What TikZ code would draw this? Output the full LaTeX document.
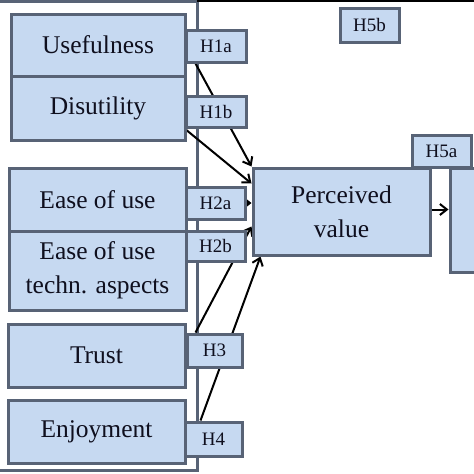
\documentclass[tikz,border=0pt]{standalone}
\usepackage{fontspec}
\setmainfont{Liberation Serif}
\usetikzlibrary{arrows.meta,calc,backgrounds}
\definecolor{boxfill}{RGB}{198,217,241}
\definecolor{boxline}{RGB}{88,99,118}
\definecolor{txt}{RGB}{15,15,30}
\begin{document}
\begin{tikzpicture}[x=1pt,y=-1pt,
  box/.style={draw=boxline,fill=boxfill,line width=3pt,inner sep=0pt,text=txt,
    font=\fontsize{25.5}{34}\selectfont,align=center},
  hyp/.style={draw=boxline,fill=boxfill,line width=3pt,inner sep=0pt,text=txt,
    font=\fontsize{19}{22}\selectfont},
  conn/.style={line width=2pt,black,-{Straight Barb[length=7pt,width=11pt]}},
  framel/.style={draw=boxline,line width=3pt}]
\useasboundingbox (0,0) rectangle (474,474);
% main boxes
\node[box,minimum width=174pt,minimum height=62pt] (U) at (98,45) {Usefulness};
\node[box,minimum width=174pt,minimum height=64pt] (D) at (98,108) {Disutility};
\node[box,minimum width=177pt,minimum height=63pt] (E) at (97.5,199.5) {Ease of use};
\node[box,minimum width=177pt,minimum height=79pt] (ET) at (97.5,270.5) {Ease of use\\techn. aspects};
\node[box,minimum width=177pt,minimum height=63pt] (T) at (96.5,355.5) {Trust};
\node[box,minimum width=177pt,minimum height=63pt] (J) at (96.5,431.5) {Enjoyment};
\node[box,minimum width=177pt,minimum height=87pt] (PV) at (341.5,211.5) {Perceived\\value};
\node[box,minimum width=44pt,minimum height=104pt] (R) at (472,220) {};
% hypothesis labels
\node[hyp,minimum width=60pt,minimum height=32pt] (H1a) at (216,46) {H1a};
\node[hyp,minimum width=60pt,minimum height=31pt] (H1b) at (216,111.5) {H1b};
\node[hyp,minimum width=59pt,minimum height=32pt] (H2a) at (215.5,203) {H2a};
\node[hyp,minimum width=59pt,minimum height=30pt] (H2b) at (215.5,246) {H2b};
\node[hyp,minimum width=55pt,minimum height=33pt] (H3) at (214.5,350.5) {H3};
\node[hyp,minimum width=57pt,minimum height=34pt] (H4) at (213.5,439) {H4};
\node[hyp,minimum width=59pt,minimum height=34pt] (H5b) at (369.5,25) {H5b};
\node[hyp,minimum width=59pt,minimum height=32pt] (H5a) at (441.5,151) {H5a};
\begin{pgfonlayer}{background}
  \draw[framel] (0,1.5) -- (197,1.5) -- (197,470) -- (0,470);
  \draw[black,line width=2pt] (197,1) -- (474,1);
  \draw[conn] ($(H1a.south west)+(11,0)$) -- (PV.north west);
  \draw[conn] (H1b.south west) -- ($(PV.north west)+(0,17)$);
  \draw[conn] (H2a.east) -- (H2a.east -| PV.west);
  \draw[conn] ($(H3.north west)+(10,0)$) -- ($(PV.south west)+(0,-30)$);
  \draw[conn] ($(H4.north west)+(17,0)$) -- ($(PV.south west)+(9,0)$);
  \draw[conn] ($(PV.east)+(0,-2)$) -- ($(PV.east -| R.west)+(0,-2)$);
\end{pgfonlayer}
\end{tikzpicture}
\end{document}
